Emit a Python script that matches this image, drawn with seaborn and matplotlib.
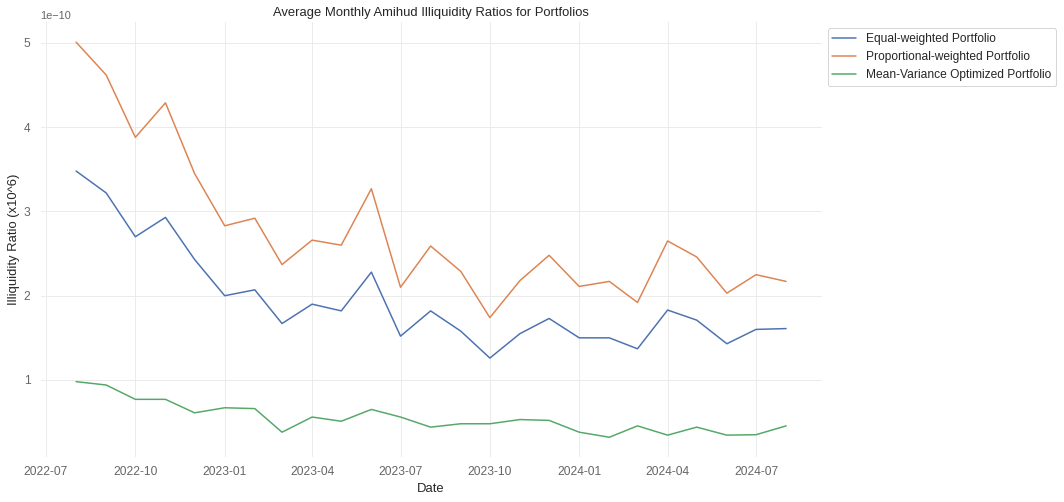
import numpy as np
import pandas as pd
import matplotlib
matplotlib.use("Agg")
import matplotlib.pyplot as plt
import seaborn as sns

dates = pd.date_range("2022-08-01", "2024-08-01", freq="MS")

equal_weighted = [3.48, 3.22, 2.70, 2.93, 2.43, 2.00, 2.07, 1.67, 1.90, 1.82,
                  2.28, 1.52, 1.82, 1.58, 1.26, 1.55, 1.73, 1.50, 1.50, 1.37,
                  1.83, 1.71, 1.43, 1.60, 1.61]
proportional_weighted = [5.01, 4.62, 3.88, 4.29, 3.45, 2.83, 2.92, 2.37, 2.66, 2.60,
                         3.27, 2.10, 2.59, 2.29, 1.74, 2.18, 2.48, 2.11, 2.17, 1.92,
                         2.65, 2.46, 2.03, 2.25, 2.17]
mean_variance = [0.98, 0.94, 0.77, 0.77, 0.61, 0.67, 0.66, 0.38, 0.56, 0.51,
                 0.65, 0.56, 0.44, 0.48, 0.48, 0.53, 0.52, 0.38, 0.32, 0.455,
                 0.345, 0.44, 0.345, 0.35, 0.455]
ytick_values = [1, 2, 3, 4, 5]

labels = ["Equal-weighted Portfolio", "Proportional-weighted Portfolio",
          "Mean-Variance Optimized Portfolio"]

df = pd.DataFrame({"Date": dates,
                   labels[0]: np.array(equal_weighted) * 1e-10,
                   labels[1]: np.array(proportional_weighted) * 1e-10,
                   labels[2]: np.array(mean_variance) * 1e-10})
long_df = df.melt(id_vars="Date", var_name="Portfolio", value_name="Ratio")

sns.set_theme(style="whitegrid", rc={"grid.color": "0.92"})
plt.rcParams["font.family"] = ["Liberation Sans", "DejaVu Sans"]

fig = plt.figure(figsize=(1064 / 72, 502 / 72), dpi=72)
ax = fig.add_axes([40.6 / 1064, 1 - 457 / 502, (821.6 - 40.6) / 1064, (457 - 22.4) / 502])

sns.lineplot(data=long_df, x="Date", y="Ratio", hue="Portfolio", ax=ax, linewidth=1.5)

sns.despine(ax=ax, left=True, bottom=True)
ax.set_yticks(np.array(ytick_values) * 1e-10)
ax.set_title("Average Monthly Amihud Illiquidity Ratios for Portfolios", fontsize=13, color="0.15")
ax.set_xlabel("Date", fontsize=13, color="0.15", labelpad=5)
ax.set_ylabel("Illiquidity Ratio (x10^6)", fontsize=13, color="0.15", labelpad=4)
ax.tick_params(axis="both", labelsize=12, colors="0.4", length=0)
ax.tick_params(axis="y", pad=10)
ax.tick_params(axis="x", pad=9)
ax.yaxis.get_offset_text().set_fontsize(11)
ax.yaxis.get_offset_text().set_color("0.4")
ax.legend(loc="upper left", bbox_to_anchor=(1, 1), fontsize=12, title=None)

fig.savefig("out.png", dpi=72)
